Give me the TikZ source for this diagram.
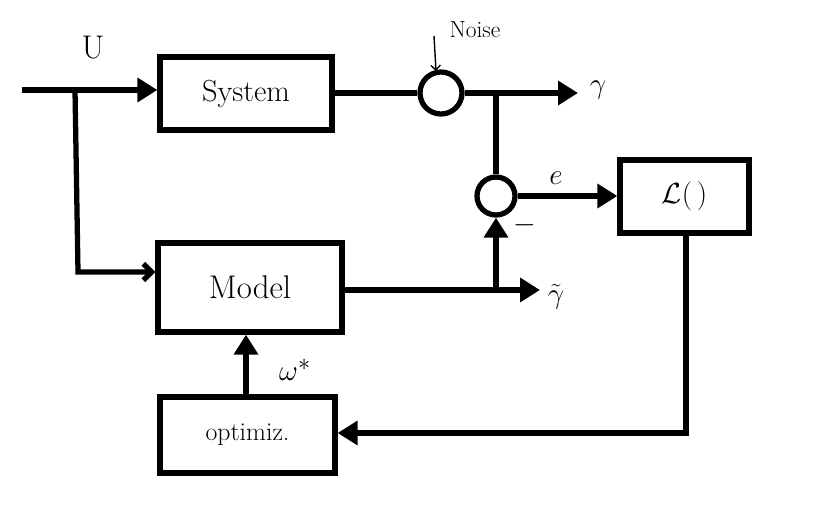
\documentclass[tikz,border=0pt]{standalone}
\usepackage{amsmath}
\usepackage{fontspec}
\usetikzlibrary{arrows.meta}
\begin{document}
\begin{tikzpicture}[x=0.03cm,y=-0.03cm,
  blk/.style={draw,line width=4.5pt,inner sep=0pt},
  sum/.style={draw,circle,line width=4.5pt,inner sep=0pt},
  conn/.style={line width=4.5pt,-{Triangle[length=17pt,width=20pt]}},
  fs/.style={font=\fontsize{#1}{#1}\selectfont}]
\useasboundingbox (0,0) rectangle (832,532);
\node[blk, minimum width=5.16cm, minimum height=2.19cm, fs=26] (sys) at (246,93.5) {System};
\node[blk, minimum width=5.52cm, minimum height=2.67cm, fs=28] (model) at (250,287.5) {Model};
\node[blk, minimum width=5.25cm, minimum height=2.28cm, fs=22] (opt) at (247.5,435) {optimiz.};
\node[blk, minimum width=3.87cm, minimum height=2.19cm, fs=34] (L) at (684.5,196.5) {$\mathcal{L}(\,)$};
\node[sum, minimum size=1.26cm] (s1) at (441,93) {};
\node[sum, minimum size=1.14cm] (s2) at (496,196) {};
\coordinate (in) at (22,90);
\coordinate (br) at (75,90);
\coordinate (bd) at (78,272);
\coordinate (j1) at (496,93);
\coordinate (j2) at (496,290);
\coordinate (yout) at (578,93);
\coordinate (ytout) at (540,290);
\coordinate (Ld) at (686,433);
\coordinate (noiseS) at (434,36);
\coordinate (noiseE) at (436,71);
\draw[conn] (in) -- (sys.west |- in);
\draw[line width=4.5pt] (sys.east |- 0,93) -- (s1);
\draw[conn] (s1) -- (yout);
\draw[line width=4.5pt] (j1) -- (s2);
\draw[conn] (s2) -- (L.west |- s2);
\draw[line width=4.5pt,-{Straight Barb[length=7pt,width=14pt]}] (br) -- (bd) -- (model.west |- bd);
\draw[conn] (model.east |- j2) -- (ytout);
\draw[conn] (j2) -- (s2);
\draw[conn] (L.south -| Ld) -- (Ld) -- (opt.east |- Ld);
\draw[conn] (opt.north -| 246,0) -- (model.south -| 246,0);
\draw[line width=1.2pt,-{Straight Barb[length=4pt,width=8pt]}] (noiseS) -- (noiseE);
\node[fs=28] (u) at (93,48) {U};
\node[fs=20] (noise) at (475,30) {Noise};
\node[fs=40] (y) at (598,90) {$\gamma$};
\node[fs=32] (e) at (556,178) {$e$};
\node[fs=24] (minus) at (525,225) {$-$};
\node[fs=40] (yt) at (556,297) {$\tilde{\gamma}$};
\node[fs=32] (w) at (295,370) {$\omega^{*}$};
\end{tikzpicture}
\end{document}
